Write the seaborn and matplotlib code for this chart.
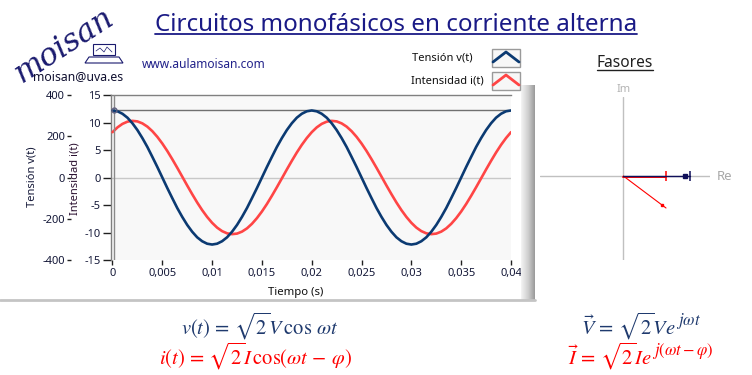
import numpy as np
import pandas as pd
import matplotlib
matplotlib.use("Agg")
import matplotlib.pyplot as plt
import seaborn as sns
from matplotlib.lines import Line2D
from matplotlib.patches import Rectangle, Polygon
from matplotlib.colors import LinearSegmentedColormap

# ---------------- data ----------------
time_ms = [0.0, 0.5, 1.0, 1.5, 2.0, 2.5, 3.0, 3.5, 4.0, 4.5,
           5.0, 5.5, 6.0, 6.5, 7.0, 7.5, 8.0, 8.5, 9.0, 9.5,
           10.0, 10.5, 11.0, 11.5, 12.0, 12.5, 13.0, 13.5, 14.0, 14.5,
           15.0, 15.5, 16.0, 16.5, 17.0, 17.5, 18.0, 18.5, 19.0, 19.5,
           20.0, 20.5, 21.0, 21.5, 22.0, 22.5, 23.0, 23.5, 24.0, 24.5,
           25.0, 25.5, 26.0, 26.5, 27.0, 27.5, 28.0, 28.5, 29.0, 29.5,
           30.0, 30.5, 31.0, 31.5, 32.0, 32.5, 33.0, 33.5, 34.0, 34.5,
           35.0, 35.5, 36.0, 36.5, 37.0, 37.5, 38.0, 38.5, 39.0, 39.5,
           40.0]
tension_v = [325, 321, 309, 290, 263, 230, 191, 148, 100, 51,
             0, -51, -100, -148, -191, -230, -263, -290, -309, -321,
             -325, -321, -309, -290, -263, -230, -191, -148, -100, -51,
             0, 51, 100, 148, 191, 230, 263, 290, 309, 321,
             325, 321, 309, 290, 263, 230, 191, 148, 100, 51,
             0, -51, -100, -148, -191, -230, -263, -290, -309, -321,
             -325, -321, -309, -290, -263, -230, -191, -148, -100, -51,
             0, 51, 100, 148, 191, 230, 263, 290, 309, 321,
             325]
intensidad_i = [8.24, 9.11, 9.75, 10.15, 10.30, 10.20, 9.84, 9.25, 8.42, 7.39,
                6.18, 4.82, 3.33, 1.77, 0.16, -1.46, -3.03, -4.54, -5.93, -7.17,
                -8.24, -9.11, -9.75, -10.15, -10.30, -10.20, -9.84, -9.25, -8.42, -7.39,
                -6.18, -4.82, -3.33, -1.77, -0.16, 1.46, 3.03, 4.54, 5.93, 7.17,
                8.24, 9.11, 9.75, 10.15, 10.30, 10.20, 9.84, 9.25, 8.42, 7.39,
                6.18, 4.82, 3.33, 1.77, 0.16, -1.46, -3.03, -4.54, -5.93, -7.17,
                -8.24, -9.11, -9.75, -10.15, -10.30, -10.20, -9.84, -9.25, -8.42, -7.39,
                -6.18, -4.82, -3.33, -1.77, -0.16, 1.46, 3.03, 4.54, 5.93, 7.17,
                8.24]

x_ticks = [0, 0.005, 0.01, 0.015, 0.02, 0.025, 0.03, 0.035, 0.04]
x_tick_labels = ["0", "0,005", "0,01", "0,015", "0,02", "0,025", "0,03", "0,035", "0,04"]
i_ticks = [-15, -10, -5, 0, 5, 10, 15]
v_ticks = [-400, -200, 0, 200, 400]

phasor_mag_v = 1.0
phasor_mag_i = 0.8
phasor_phi_deg = 36.87

title = "Circuitos monofásicos en corriente alterna"

# ---------------- style ----------------
sns.set_style("white")
plt.rcParams['font.family'] = ['Noto Sans', 'DejaVu Sans']
plt.rcParams['mathtext.fontset'] = 'stix'

W, H = 752, 375
fig = plt.figure(figsize=(W / 100, H / 100), dpi=100)
fig.patch.set_facecolor("white")
renderer = fig.canvas.get_renderer()

def fx(x):
    return x / W

def fy(y):
    return 1 - y / H

def text_width(s, size, **kw):
    t = fig.text(0, 0, s, fontsize=size, **kw)
    w = t.get_window_extent(renderer).width
    t.remove()
    return w

def fit_size(s, length, **kw):
    return 10 * length / text_width(s, 10, **kw)

NAVY = "#1a1a86"
BLUE = "#0b3a72"
RED = "#ff4545"
EQ_BLUE = "#1f3a6e"
TICK_COL = "#141838"

df = pd.DataFrame({"t": np.array(time_ms) / 1000.0,
                   "v": tension_v,
                   "i": intensidad_i})

# ---------------- main chart ----------------
x0, x1, ytop, ybot = 111, 511, 95, 260
ax_i = fig.add_axes([fx(x0), fy(ybot), (x1 - x0) / W, (ybot - ytop) / H])
ax_i.set_facecolor("#f8f8f8")
ax_v = ax_i.twinx()

ax_i.axhline(0, color="#c8c8c8", lw=1, zorder=1)
sns.lineplot(data=df, x="t", y="i", ax=ax_i, color=RED, lw=1.9, zorder=3)
sns.lineplot(data=df, x="t", y="v", ax=ax_v, color=BLUE, lw=1.9, zorder=3)

# cursor at the voltage peak
ax_v.axhline(df["v"].iloc[0], color="#707070", lw=1, zorder=2)
ax_v.axvline(df["t"].iloc[0] + 0.0002, color="#8a8a8a", lw=1, zorder=2)
ax_v.plot([df["t"].iloc[0] + 0.0002], [df["v"].iloc[0]], marker="o", ms=3.5,
          mfc="none", mec="#606080", mew=1, zorder=4)

ax_i.set_xlim(-0.00015, 0.04)
ax_i.set_ylim(-15, 15)
ax_v.set_ylim(-400, 400)

ax_i.set_xticks(x_ticks)
ax_i.set_xticklabels(x_tick_labels)
ax_i.set_yticks(i_ticks)
ax_i.set_yticklabels([str(v) for v in i_ticks])
ax_v.set_yticks(v_ticks)
ax_v.set_yticklabels([str(v) for v in v_ticks])
ax_i.set_xlabel("")
ax_i.set_ylabel("")
ax_v.set_ylabel("")

for sp in ["right", "bottom"]:
    ax_i.spines[sp].set_visible(False)
for sp in ["left", "top"]:
    ax_i.spines[sp].set_color("#808080")
    ax_i.spines[sp].set_linewidth(1)
for sp in ax_v.spines.values():
    sp.set_visible(False)

ax_i.tick_params(axis="y", which="both", left=True, right=False, length=5.5, width=1,
                 color="#202020", pad=2.2, labelsize=8, labelcolor=TICK_COL)
ax_i.tick_params(axis="x", which="both", bottom=True, length=3.6, width=1,
                 color="#202020", pad=2.5, labelsize=8, labelcolor=TICK_COL)

ax_v.yaxis.tick_left()
ax_v.spines["left"].set_position(("outward", 28.8))
ax_v.tick_params(axis="y", left=True, right=False, length=3.2, width=1,
                 color="#202020", pad=1.2, labelsize=8, labelcolor=TICK_COL)

# axis labels
s = fit_size("Tiempo (s)", 55)
fig.text(fx(296), fy(292), "Tiempo (s)", fontsize=s, ha="center", va="center", color="#101010")
s = fit_size("Tensión v(t)", 60)
fig.text(fx(32), fy(177), "Tensión v(t)", fontsize=s, ha="center", va="center",
         rotation=90, color="#141838")
s = fit_size("Intensidad i(t)", 72)
fig.text(fx(75), fy(179), "Intensidad i(t)", fontsize=s, ha="center", va="center",
         rotation=90, color="#2a1030")

# panel decorations (bar and bottom line)
ax_bar = fig.add_axes([fx(521), fy(300), 14 / W, 215 / H])
grad = np.linspace(0, 1, 50)[None, :]
cm = LinearSegmentedColormap.from_list("g", ["#f4f4f4", "#d0d0d0", "#9a9a9a"])
ax_bar.imshow(grad, aspect="auto", cmap=cm, extent=[0, 1, 0, 1])
ax_bar.axis("off")
fig.add_artist(Line2D([0, fx(535)], [fy(300), fy(300)], transform=fig.transFigure,
                      color="#c4c4c4", lw=2))

# ---------------- legend ----------------
s = fit_size("Intensidad i(t)", 72)
fig.text(fx(412), fy(58), "Tensión v(t)", fontsize=s, ha="left", va="center", color="#101010")
fig.text(fx(411), fy(81), "Intensidad i(t)", fontsize=s, ha="left", va="center", color="#101010")
for (yt, yb, col) in [(49, 67, BLUE), (72, 90, RED)]:
    fig.add_artist(Rectangle((fx(492), fy(yb)), 28 / W, (yb - yt) / H,
                             transform=fig.transFigure, facecolor="#f7f7f7",
                             edgecolor="#9a9a9a", lw=1))
    fig.add_artist(Line2D([fx(493), fx(506), fx(519)],
                          [fy(yb - 5), fy(yt + 3), fy(yb - 5)],
                          transform=fig.transFigure, color=col, lw=2))

# ---------------- title & header ----------------
s = fit_size(title, 482)
fig.text(fx(155), fy(31), title, fontsize=s, ha="left", va="baseline", color=NAVY)
fig.add_artist(Line2D([fx(155), fx(637)], [fy(34), fy(34)], transform=fig.transFigure,
                      color=NAVY, lw=1.3))

s = fit_size("www.aulamoisan.com", 124)
fig.text(fx(142), fy(64), "www.aulamoisan.com", fontsize=s, ha="left", va="center", color="#22228a")
s = fit_size("moisan@uva.es", 90)
fig.text(fx(33), fy(77), "moisan@uva.es", fontsize=s, ha="left", va="center", color="#101030")

s = fit_size("moisan", 112, family="DejaVu Serif", style="italic")
fig.text(fx(64), fy(45), "moisan", fontsize=s, family="DejaVu Serif", style="italic",
         ha="center", va="center", rotation=33, color="#1a1a6e")
# small laptop icon
fig.add_artist(Rectangle((fx(93), fy(55)), 22 / W, 11 / H, transform=fig.transFigure,
                         facecolor="white", edgecolor="#1a1a6e", lw=0.8))
fig.add_artist(Polygon([[fx(89), fy(57)], [fx(119), fy(57)], [fx(123), fy(63)], [fx(85), fy(63)]],
                       closed=True, transform=fig.transFigure, facecolor="white",
                       edgecolor="#1a1a6e", lw=0.8))
fig.add_artist(Line2D([fx(96), fx(100), fx(104), fx(107), fx(112)],
                      [fy(51), fy(48), fy(52), fy(47), fy(52)],
                      transform=fig.transFigure, color="#1a1a6e", lw=0.5))

# ---------------- phasors ----------------
s = fit_size("Fasores", 56)
fig.text(fx(597), fy(67), "Fasores", fontsize=s, ha="left", va="baseline", color="#202020")
fig.add_artist(Line2D([fx(597), fx(653)], [fy(70), fy(70)], transform=fig.transFigure,
                      color="#202020", lw=1))

ax_p = fig.add_axes([fx(540), fy(260), 170 / W, 163 / H])
ax_p.set_xlim(-1.25, 1.30)
ax_p.set_ylim(-1.26, 1.185)
ax_p.axis("off")
ax_p.axhline(0, color="#c0c0c0", lw=1)
ax_p.axvline(0, color="#c0c0c0", lw=1)
phi = np.deg2rad(phasor_phi_deg)
i_re = phasor_mag_i * np.cos(phi)
i_im = -phasor_mag_i * np.sin(phi)
ax_p.plot([0, i_re], [-0.014, -0.014], color="#ff0000", lw=1.4, zorder=3)
ax_p.plot([i_re], [0], marker="|", ms=7, color="#ff0000", mew=1.1, zorder=4)
ax_p.plot([0, phasor_mag_v], [0.006, 0.006], color="#10105a", lw=1.0, zorder=4)
ax_p.plot([phasor_mag_v * 0.93], [0.006], marker="s", ms=2.5, color="#10105a", zorder=5)
ax_p.plot([phasor_mag_v], [0.006], marker="|", ms=7, color="#10105a", mew=1.1, zorder=5)
ax_p.plot([0, i_re], [0, i_im], color="#ff0000", lw=0.8, zorder=3)
ax_p.plot([i_re * 0.9], [i_im * 0.9], marker="s", ms=2, color="#ff0000", zorder=4)
fig.text(fx(624), fy(89), "Im", fontsize=8, ha="center", va="center", color="#b4b4b4")
fig.text(fx(725), fy(177), "Re", fontsize=9.5, ha="center", va="center", color="#a8a8a8")

# ---------------- equations ----------------
EQ_SIZE = 14.8
eqs_left = [
    (r"$v(t)\,=\,\sqrt{2}V\,\cos\,\omega t$", 260, 335, EQ_BLUE),
    (r"$i(t)\,=\,\sqrt{2}I\,\cos(\omega t\,-\,\varphi)$", 256, 365, "#ff0000"),
]
for txt, xc, yb, col in eqs_left:
    fig.text(fx(xc), fy(yb), txt, fontsize=EQ_SIZE, ha="center", va="baseline", color=col)

EXP_SIZE = 12
eqs_right = [
    (r"$\vec{V}\,=\,\sqrt{2}Ve$", r"$j\omega t$", 641, 335, EQ_BLUE),
    (r"$\vec{I}\,=\,\sqrt{2}Ie$", r"$j(\omega t-\varphi)$", 641, 365, "#ff0000"),
]
for base, expo, xc, yb, col in eqs_right:
    w1 = text_width(base, EQ_SIZE)
    w2 = text_width(expo, EXP_SIZE)
    xs = xc - (w1 + w2) / 2
    fig.text(fx(xs), fy(yb), base, fontsize=EQ_SIZE, ha="left", va="baseline", color=col)
    fig.text(fx(xs + w1), fy(yb - 10), expo, fontsize=EXP_SIZE, ha="left", va="baseline", color=col)

fig.savefig("out.png", dpi=100, facecolor="white")
